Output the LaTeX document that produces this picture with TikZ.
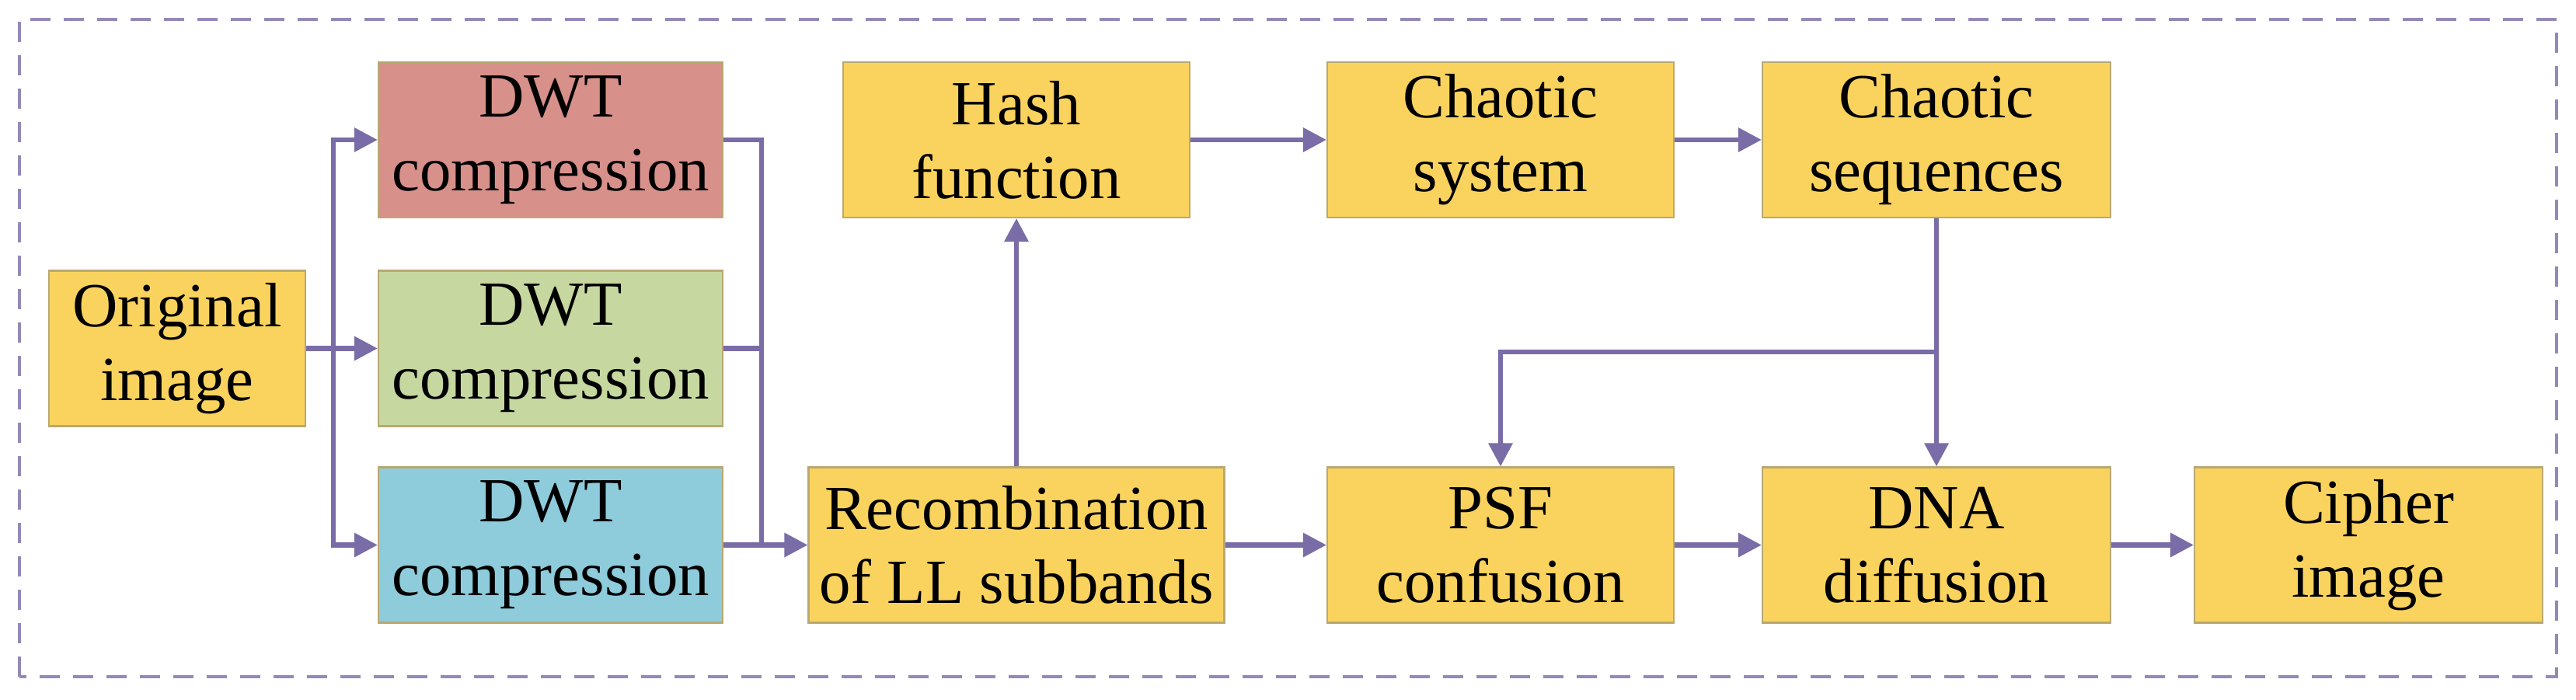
\documentclass[tikz,border=0pt]{standalone}
\usepackage{fontspec}
\setmainfont{Liberation Serif}
\usetikzlibrary{arrows.meta,calc}
\definecolor{byel}{HTML}{FAD35F}
\definecolor{bred}{HTML}{D8908A}
\definecolor{bgrn}{HTML}{C6D8A0}
\definecolor{bblu}{HTML}{8ECBDB}
\definecolor{lpur}{HTML}{7A6CA6}
\definecolor{bord}{HTML}{B8A872}
\tikzset{
 box/.style={draw=bord,line width=0.6pt,fill=byel,minimum width=4.46cm,minimum height=2cm,
   align=center,inner sep=0pt,font=\fontsize{23}{27}\selectfont},
 arr/.style={draw=lpur,line width=1.8pt,-{Triangle[length=0.3cm,width=0.3cm]}},
 ln/.style={draw=lpur,line width=1.8pt}
}
\begin{document}
\begin{tikzpicture}
\useasboundingbox (0,0) rectangle (33.15,9);
\draw[draw=lpur!80,line width=1.3pt,dash pattern=on 0.26cm off 0.17cm] (0.25,0.29) rectangle (32.9,8.75);
\node[box,minimum width=3.3cm] (orig) at (2.28,4.515) {Original\\image};
\node[box,fill=bred,minimum width=4.43cm] (d1) at (7.085,7.2) {DWT\\compression};
\node[box,fill=bgrn,minimum width=4.43cm] (d2) at (7.085,4.515) {DWT\\compression};
\node[box,fill=bblu,minimum width=4.43cm] (d3) at (7.085,1.985) {DWT\\compression};
\node[box] (hash) at (13.08,7.2) {Hash\\function};
\node[box] (csys) at (19.31,7.2) {Chaotic\\system};
\node[box,minimum width=4.48cm] (cseq) at (24.92,7.2) {Chaotic\\sequences};
\node[box,minimum width=5.35cm] (rec) at (13.08,1.985) {Recombination\\of LL subbands};
\node[box] (psf) at (19.31,1.985) {PSF\\confusion};
\node[box,minimum width=4.48cm] (dna) at (24.92,1.985) {DNA\\diffusion};
\node[box,minimum width=4.48cm] (ciph) at (30.48,1.985) {Cipher\\image};
\coordinate (sp) at (4.29,4.515);
\coordinate (co) at (9.8,1.985);
\coordinate (br) at (24.92,4.47);
\draw[ln] (orig.east) -- (sp);
\draw[arr] (sp) |- (d1.west);
\draw[arr] (sp) -- (d2.west);
\draw[arr] (sp) |- (d3.west);
\draw[ln] (d1.east) -| (co);
\draw[ln] (d2.east) -| (co);
\draw[arr] (d3.east) -- (rec.west);
\draw[arr] (rec.north) -- (hash.south);
\draw[arr] (hash) -- (csys);
\draw[arr] (csys) -- (cseq);
\draw[arr] (cseq.south) -- (dna.north);
\draw[arr] (br) -| (psf.north);
\draw[arr] (rec) -- (psf);
\draw[arr] (psf) -- (dna);
\draw[arr] (dna) -- (ciph);
\end{tikzpicture}
\end{document}
